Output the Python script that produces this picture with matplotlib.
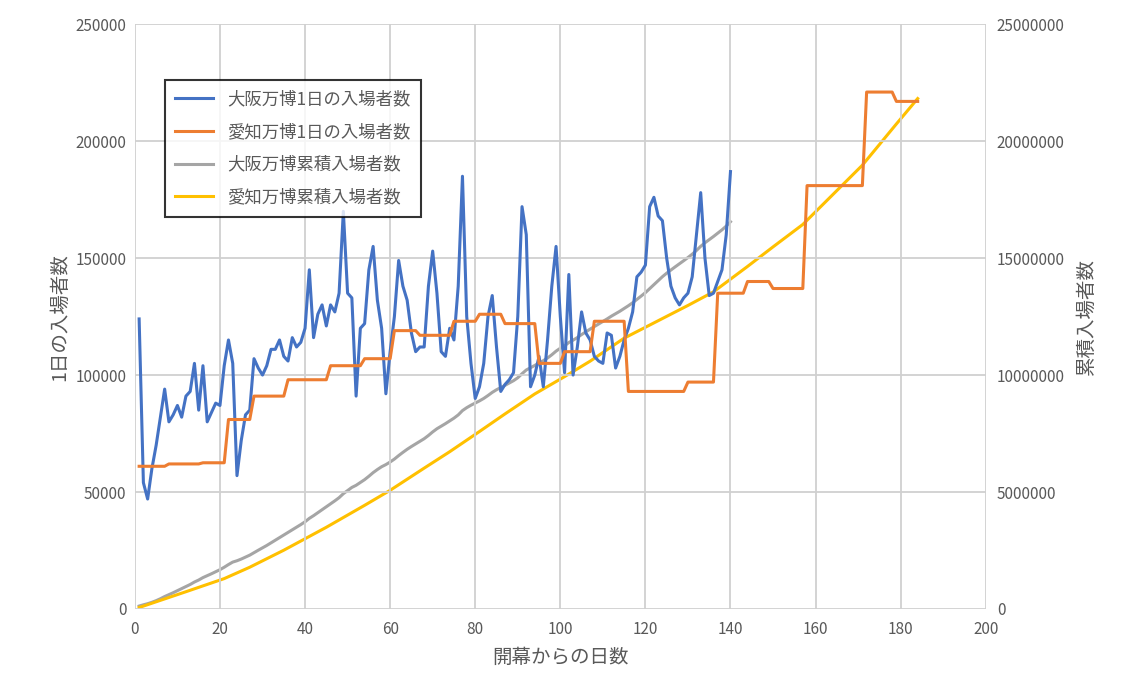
import numpy as np
import matplotlib
matplotlib.use("Agg")
import matplotlib.pyplot as plt

plt.rcParams['font.family'] = ['Noto Sans CJK JP', 'DejaVu Sans']

osaka_daily = [124000,54000,47000,60000,70000,82000,94000,80000,83000,87000,
 82000,91000,93000,105000,85000,104000,80000,84000,88000,87000,
 104000,115000,105000,57000,72000,83000,85000,107000,103000,100000,
 104000,111000,111000,115000,108000,106000,116000,112000,114000,120000,
 145000,116000,126000,130000,121000,130000,127000,135000,170000,135000,
 133000,91000,120000,122000,145000,155000,132000,120000,92000,110000,
 125000,149000,138000,132000,118000,110000,112000,112000,138000,153000,
 135000,110000,108000,120000,115000,138000,185000,125000,105000,90000,
 95000,105000,125000,134000,112000,93000,96000,98000,101000,125000,
 172000,160000,95000,100000,108000,95000,115000,138000,155000,125000,
 101000,143000,100000,112000,127000,118000,115000,108000,106000,105000,
 118000,117000,103000,108000,115000,120000,127000,142000,144000,147000,
 172000,176000,168000,166000,150000,138000,133000,130000,133000,135000,
 142000,160000,178000,150000,134000,135000,140000,145000,160000,187000]

# Aichi daily (weekly-average steps): step lengths (days) and values
aichi_step_days = [7,8,6,6,8,10,8,7,6,8,6,6,8,6,7,8,14,7,7,6,8,14,7,6]
aichi_step_vals = [61000,62000,62500,81000,91000,98000,104000,107000,119000,117000,
                   123000,126000,122000,105000,110000,123000,93000,97000,135000,140000,
                   137000,181000,221000,217000]
aichi_daily = np.repeat(aichi_step_vals, aichi_step_days)

osaka_days = np.arange(1, len(osaka_daily) + 1)
aichi_days = np.arange(1, len(aichi_daily) + 1)
osaka_cum = np.cumsum(osaka_daily)
aichi_cum = np.cumsum(aichi_daily)

txt = '#595959'
fig, ax = plt.subplots(figsize=(11.24, 6.92), dpi=100)
fig.subplots_adjust(left=0.12, right=0.877, top=0.965, bottom=0.12)
ax2 = ax.twinx()
ax.set_zorder(2); ax.patch.set_visible(False)

l1, = ax.plot(osaka_days, osaka_daily, color='#4472C4', lw=2.2, label='大阪万博1日の入場者数')
l2, = ax.plot(aichi_days, aichi_daily, color='#ED7D31', lw=2.2, label='愛知万博1日の入場者数')
l3, = ax2.plot(osaka_days, osaka_cum, color='#A5A5A5', lw=2.2, label='大阪万博累積入場者数')
l4, = ax2.plot(aichi_days, aichi_cum, color='#FFC000', lw=2.2, label='愛知万博累積入場者数')

ax.set_xlim(0, 200); ax.set_ylim(0, 250000)
ax2.set_ylim(0, 25000000)
ax.set_xticks(range(0, 201, 20))
ax.set_yticks(range(0, 250001, 50000))
ax2.set_yticks(range(0, 25000001, 5000000))
ax.grid(True, color='#D0D0D0', lw=1.3)
ax2.grid(False)
for a in (ax, ax2):
    for s in a.spines.values():
        s.set_visible(False)
    a.tick_params(length=0, colors=txt, labelsize=11)
ax.tick_params(axis='x', pad=9)
ax.tick_params(axis='y', pad=6)
ax2.tick_params(axis='y', pad=8)
ax.yaxis.set_major_formatter(matplotlib.ticker.FuncFormatter(lambda v, p: f'{int(v)}'))
ax2.yaxis.set_major_formatter(matplotlib.ticker.FuncFormatter(lambda v, p: f'{int(v)}'))
ax.set_xlabel('開幕からの日数', color=txt, fontsize=14, labelpad=6)
ax.set_ylabel('1日の入場者数', color=txt, fontsize=14)
ax2.set_ylabel('累積入場者数', color=txt, fontsize=14, labelpad=8)

leg = ax.legend(handles=[l1, l2, l3, l4], loc='upper left', bbox_to_anchor=(0.025, 0.92),
                fontsize=12.5, frameon=True, fancybox=False, edgecolor='black',
                handlelength=2.2, labelspacing=0.85, borderpad=0.6)
leg.get_frame().set_linewidth(1.5)
for t in leg.get_texts():
    t.set_color(txt)

fig.savefig('out.png', dpi=100)
